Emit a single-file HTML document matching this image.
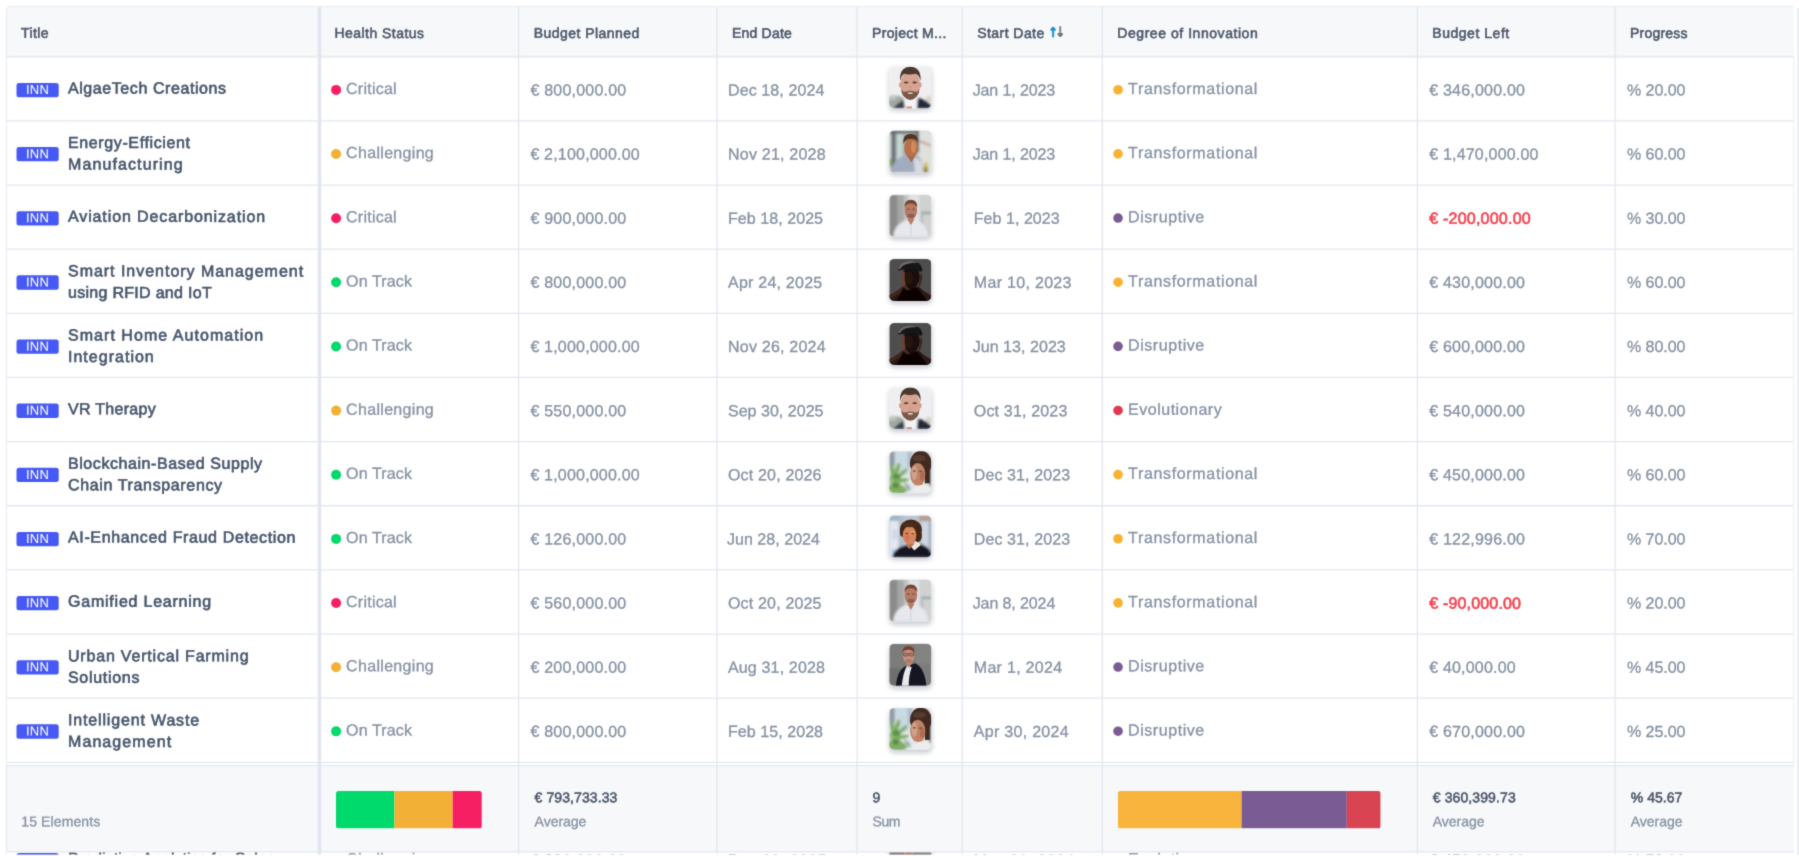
<!DOCTYPE html>
<html lang="en"><head><meta charset="utf-8"><title>Projects</title>
<style>
html,body{margin:0;padding:0;background:#fff;}
body{width:1799px;height:856px;overflow:hidden;position:relative;font-family:"Liberation Sans",sans-serif;}
.x{position:absolute;left:0;top:0;white-space:nowrap;line-height:1;display:block;transform-origin:0 0;}
.b{font-size:16px;color:#8591a2;-webkit-text-stroke:0.3px #8591a2;}
.t{font-size:16px;color:#47566c;-webkit-text-stroke:0.62px #47566c;}
.h{font-size:14px;color:#4a5669;-webkit-text-stroke:0.55px #4a5669;}
.fb{font-size:14px;color:#4a5669;-webkit-text-stroke:0.55px #4a5669;}
.fs{font-size:14px;color:#8591a2;-webkit-text-stroke:0.3px #8591a2;}
.inn{font-size:13px;color:#fff;}
.av{position:absolute;left:0;top:0;width:42px;height:42px;border-radius:5px;overflow:hidden;box-shadow:0 2.5px 5px rgba(50,60,90,.26);}
.av svg{display:block}
.bg{position:absolute;}
#grid{position:absolute;left:0;top:0;}
#foot{position:absolute;left:6.0px;top:765.5px;width:1788.0px;height:86.5px;background:#f6f8fa;border-radius:0 0 0 5px;}
#page{position:absolute;left:0;top:0;width:1799px;height:856px;overflow:hidden;filter:url(#soft);will-change:transform;background:#fff;}
</style></head><body>
<svg width="0" height="0" style="position:absolute"><defs><filter id="soft" x="0" y="0" width="100%" height="100%" color-interpolation-filters="sRGB"><feConvolveMatrix order="3" kernelMatrix="0.025 0.095 0.025 0.095 0.52 0.095 0.025 0.095 0.025" edgeMode="duplicate" preserveAlpha="false"/></filter></defs></svg>
<div id="page">

<div class="bg" style="left:6.0px;top:6.0px;width:1788.0px;height:50.8px;background:#f6f8fa;border-radius:5px 5px 0 0"></div>
<span class="x h" style="transform:translate(21.00px,25.85px) rotate(.05deg);letter-spacing:0.412px;">Title</span>
<span class="x h" style="transform:translate(334.50px,25.85px) rotate(.05deg);letter-spacing:0.457px;">Health Status</span>
<span class="x h" style="transform:translate(533.70px,25.85px) rotate(.05deg);letter-spacing:0.454px;">Budget Planned</span>
<span class="x h" style="transform:translate(732.00px,25.85px) rotate(.05deg);letter-spacing:0.203px;">End Date</span>
<span class="x h" style="transform:translate(872.10px,25.85px) rotate(.05deg);letter-spacing:0.309px;">Project M...</span>
<span class="x h" style="transform:translate(977.20px,25.85px) rotate(.05deg);letter-spacing:0.447px;">Start Date</span>
<span class="x h" style="transform:translate(1117.30px,25.85px) rotate(.05deg);letter-spacing:0.551px;">Degree of Innovation</span>
<span class="x h" style="transform:translate(1432.30px,25.85px) rotate(.05deg);letter-spacing:0.534px;">Budget Left</span>
<span class="x h" style="transform:translate(1630.10px,25.85px) rotate(.05deg);letter-spacing:0.184px;">Progress</span>
<svg style="position:absolute;left:1048px;top:24px" width="18" height="16" viewBox="0 0 18 16">
<path d="M5.1 12.5 L5.1 5" stroke="#2f9edd" stroke-width="2.3" fill="none" stroke-linecap="round"/>
<path d="M3.4 5.7 L5.1 3.9 L6.8 5.7Z" fill="#1a8fd6" stroke="#1a8fd6" stroke-width="2.3" stroke-linejoin="round"/>
<path d="M12.2 3.0 L12.2 9.6" stroke="#868686" stroke-width="2.0" fill="none" stroke-linecap="round"/>
<path d="M10.5 10.2 L12.2 11.8 L13.9 10.2Z" fill="#737373" stroke="#737373" stroke-width="2.3" stroke-linejoin="round"/>
</svg>
<svg style="position:absolute;left:0;top:0" width="1799" height="856" viewBox="0 0 1799 856"><rect x="16.5" y="82.90" width="42.2" height="14.3" rx="2.5" fill="#4759f5"/><circle cx="336.10" cy="89.90" r="5" fill="#f71f63"/><circle cx="1118.05" cy="89.75" r="4.8" fill="#f9b234"/><rect x="16.5" y="147.04" width="42.2" height="14.3" rx="2.5" fill="#4759f5"/><circle cx="336.10" cy="154.04" r="5" fill="#f2b136"/><circle cx="1118.05" cy="153.89" r="4.8" fill="#f9b234"/><rect x="16.5" y="211.19" width="42.2" height="14.3" rx="2.5" fill="#4759f5"/><circle cx="336.10" cy="218.19" r="5" fill="#f71f63"/><circle cx="1118.05" cy="218.04" r="4.8" fill="#7a5b93"/><rect x="16.5" y="275.33" width="42.2" height="14.3" rx="2.5" fill="#4759f5"/><circle cx="336.10" cy="282.33" r="5" fill="#00d96b"/><circle cx="1118.05" cy="282.19" r="4.8" fill="#f9b234"/><rect x="16.5" y="339.48" width="42.2" height="14.3" rx="2.5" fill="#4759f5"/><circle cx="336.10" cy="346.48" r="5" fill="#00d96b"/><circle cx="1118.05" cy="346.33" r="4.8" fill="#7a5b93"/><rect x="16.5" y="403.62" width="42.2" height="14.3" rx="2.5" fill="#4759f5"/><circle cx="336.10" cy="410.62" r="5" fill="#f2b136"/><circle cx="1118.05" cy="410.47" r="4.8" fill="#e0394f"/><rect x="16.5" y="467.77" width="42.2" height="14.3" rx="2.5" fill="#4759f5"/><circle cx="336.10" cy="474.77" r="5" fill="#00d96b"/><circle cx="1118.05" cy="474.62" r="4.8" fill="#f9b234"/><rect x="16.5" y="531.91" width="42.2" height="14.3" rx="2.5" fill="#4759f5"/><circle cx="336.10" cy="538.91" r="5" fill="#00d96b"/><circle cx="1118.05" cy="538.76" r="4.8" fill="#f9b234"/><rect x="16.5" y="596.06" width="42.2" height="14.3" rx="2.5" fill="#4759f5"/><circle cx="336.10" cy="603.06" r="5" fill="#f71f63"/><circle cx="1118.05" cy="602.91" r="4.8" fill="#f9b234"/><rect x="16.5" y="660.20" width="42.2" height="14.3" rx="2.5" fill="#4759f5"/><circle cx="336.10" cy="667.20" r="5" fill="#f2b136"/><circle cx="1118.05" cy="667.05" r="4.8" fill="#7a5b93"/><rect x="16.5" y="724.35" width="42.2" height="14.3" rx="2.5" fill="#4759f5"/><circle cx="336.10" cy="731.35" r="5" fill="#00d96b"/><circle cx="1118.05" cy="731.20" r="4.8" fill="#7a5b93"/><rect x="16.5" y="788.94" width="42.2" height="14.3" rx="2.5" fill="#4759f5"/><circle cx="336.10" cy="795.94" r="5" fill="#00d96b"/><circle cx="1118.05" cy="795.79" r="4.8" fill="#7a5b93"/><rect x="16.5" y="853.09" width="42.2" height="14.3" rx="2.5" fill="#4759f5"/><circle cx="336.10" cy="860.09" r="5" fill="#f2b136"/><circle cx="1118.05" cy="859.94" r="4.8" fill="#e0394f"/></svg>
<span class="x inn" style="transform:translate(26.00px,83.05px) rotate(.05deg);letter-spacing:0.250px;">INN</span>
<span class="x t" style="transform:translate(68.00px,80.46px) rotate(.05deg);letter-spacing:0.577px;">AlgaeTech Creations</span>
<span class="x b" style="transform:translate(346.10px,80.96px) rotate(.05deg);letter-spacing:0.226px;">Critical</span>
<span class="x b" style="transform:translate(530.40px,82.41px) rotate(.05deg);letter-spacing:0.215px;">€ 800,000.00</span>
<span class="x b" style="transform:translate(728.00px,82.41px) rotate(.05deg);letter-spacing:0.101px;">Dec 18, 2024</span>
<div class="av" style="transform:translate(889.30px,66.45px)"><svg width="42" height="42" viewBox="0 0 42 42"><defs><filter id="gA0" x="-20%" y="-20%" width="140%" height="140%"><feGaussianBlur stdDeviation="1.1"/></filter><filter id="fA0" x="-20%" y="-20%" width="140%" height="140%"><feGaussianBlur stdDeviation="0.75"/></filter></defs><rect width="42" height="42" fill="#efeff2"/>
<g filter="url(#gA0)">
<ellipse cx="6" cy="35.5" rx="9.5" ry="6.5" fill="#a2a8a0"/>
<ellipse cx="3" cy="31" rx="4" ry="2.5" fill="#c3c6c0"/>
<ellipse cx="39.5" cy="33" rx="3.5" ry="3.5" fill="#d9d4c4"/>
<path d="M27.5 31 Q37 33 41.5 38.5 L42 42 L26 42Z" fill="#242938"/>
<path d="M4 42 Q8 36.5 15 33 L16.5 42Z" fill="#39404f"/>
<path d="M14.5 32.5 L17 28 L25 28 L28.5 31.5 L27.5 42 L15.5 42Z" fill="#f3f3f6"/>
</g>
<g filter="url(#fA0)">
<rect x="17.2" y="40" width="5.4" height="2.4" fill="#cf8f78"/>
<ellipse cx="21" cy="18" rx="10" ry="13.2" fill="#d5a390"/>
<ellipse cx="11" cy="18.5" rx="1.3" ry="2.6" fill="#d49a88"/><ellipse cx="31" cy="18.5" rx="1.3" ry="2.6" fill="#d49a88"/>
<path d="M11.8 22 Q12.2 32 21 33.6 Q29.8 32 30.2 22 Q28.6 26.4 25 25 Q21 23.8 17 25 Q13.4 26.4 11.8 22Z" fill="#7a594a"/>
<ellipse cx="21" cy="26.6" rx="2.8" ry="0.9" fill="#e2cdc4"/>
<path d="M10.8 14.5 Q9.8 1 21 0.4 Q32.2 1 31.2 14.5 Q30 8.2 26 7.2 Q20 8.8 15 7.2 Q12 8.6 10.8 14.5Z" fill="#4b382e"/>
<ellipse cx="16.8" cy="16" rx="2.3" ry="0.95" fill="#5a3d33"/><ellipse cx="25.4" cy="16" rx="2.3" ry="0.95" fill="#5a3d33"/>
<ellipse cx="21" cy="21" rx="1.5" ry="1" fill="#cf9583"/>
</g></svg></div>
<span class="x b" style="transform:translate(972.70px,82.41px) rotate(.05deg);letter-spacing:-0.120px;">Jan 1, 2023</span>
<span class="x b" style="transform:translate(1128.10px,80.96px) rotate(.05deg);letter-spacing:0.659px;">Transformational</span>
<span class="x b" style="transform:translate(1429.20px,82.41px) rotate(.05deg);letter-spacing:0.215px;">€ 346,000.00</span>
<span class="x b" style="transform:translate(1627.00px,82.41px) rotate(.05deg);letter-spacing:-0.046px;">% 20.00</span>
<span class="x inn" style="transform:translate(26.00px,147.19px) rotate(.05deg);letter-spacing:0.250px;">INN</span>
<span class="x t" style="transform:translate(68.00px,135.00px) rotate(.05deg);letter-spacing:0.621px;">Energy-Efficient</span>
<span class="x t" style="transform:translate(68.00px,156.55px) rotate(.05deg);letter-spacing:1.108px;">Manufacturing</span>
<span class="x b" style="transform:translate(346.10px,145.10px) rotate(.05deg);letter-spacing:0.317px;">Challenging</span>
<span class="x b" style="transform:translate(530.40px,146.55px) rotate(.05deg);letter-spacing:0.195px;">€ 2,100,000.00</span>
<span class="x b" style="transform:translate(728.00px,146.55px) rotate(.05deg);letter-spacing:0.218px;">Nov 21, 2028</span>
<div class="av" style="transform:translate(889.30px,130.59px)"><svg width="42" height="42" viewBox="0 0 42 42"><defs><filter id="gB1" x="-20%" y="-20%" width="140%" height="140%"><feGaussianBlur stdDeviation="1.1"/></filter><filter id="fB1" x="-20%" y="-20%" width="140%" height="140%"><feGaussianBlur stdDeviation="0.75"/></filter></defs><rect width="42" height="42" fill="#dcddd8"/>
<g filter="url(#gB1)">
<rect x="0" y="0" width="30" height="42" fill="#c8d5d1"/>
<rect x="0" y="0" width="30" height="3.2" fill="#666d76"/>
<rect x="2.2" y="0" width="4" height="42" fill="#656c76"/>
<rect x="6.5" y="3" width="1.2" height="28" fill="#99a4a6"/>
<rect x="13" y="3" width="4" height="22" fill="#aab7b8"/>
<rect x="25.5" y="0" width="4.5" height="22" fill="#6a7179"/>
<rect x="30" y="0" width="12" height="42" fill="#dfe0db"/>
<path d="M30 9.5 L42 14 L42 16.2 L30 11.8Z" fill="#c6a294"/>
<rect x="34.5" y="32" width="4" height="6" fill="#d8c060"/>
<rect x="34" y="36" width="4.6" height="6" fill="#86aa50"/><rect x="35.3" y="39" width="3" height="3" fill="#c4504a"/>
<rect x="0" y="28" width="2.6" height="8" fill="#86aa5c"/>
<path d="M1 42 Q3 30 15 24.5 L28 25 Q33.5 28 33.5 42Z" fill="#a3abc1"/>
<path d="M24.5 27 Q33.5 28 33.5 42 L25.5 42Z" fill="#d7d9e2"/>
</g>
<g filter="url(#fB1)">
<ellipse cx="21.7" cy="17.5" rx="6.9" ry="10.4" fill="#b5714c"/>
<ellipse cx="24.2" cy="16.5" rx="2.4" ry="6" fill="#d48b58"/>
<ellipse cx="20" cy="17" rx="1.3" ry="3.6" fill="#c46a50"/>
<path d="M14.2 13.5 Q13 3.2 21 3.2 Q29 3.2 28.6 11.5 Q25 7.6 21 8.4 Q16.5 8.2 14.2 13.5Z" fill="#55341f"/>
<path d="M18.5 26 L22 32 L25.5 26Z" fill="#a5674a"/>
</g></svg></div>
<span class="x b" style="transform:translate(972.70px,146.55px) rotate(.05deg);letter-spacing:-0.120px;">Jan 1, 2023</span>
<span class="x b" style="transform:translate(1128.10px,145.10px) rotate(.05deg);letter-spacing:0.659px;">Transformational</span>
<span class="x b" style="transform:translate(1429.20px,146.55px) rotate(.05deg);letter-spacing:0.195px;">€ 1,470,000.00</span>
<span class="x b" style="transform:translate(1627.00px,146.55px) rotate(.05deg);letter-spacing:-0.046px;">% 60.00</span>
<span class="x inn" style="transform:translate(26.00px,211.34px) rotate(.05deg);letter-spacing:0.250px;">INN</span>
<span class="x t" style="transform:translate(68.00px,208.75px) rotate(.05deg);letter-spacing:0.887px;">Aviation Decarbonization</span>
<span class="x b" style="transform:translate(346.10px,209.25px) rotate(.05deg);letter-spacing:0.226px;">Critical</span>
<span class="x b" style="transform:translate(530.40px,210.70px) rotate(.05deg);letter-spacing:0.215px;">€ 900,000.00</span>
<span class="x b" style="transform:translate(728.00px,210.70px) rotate(.05deg);letter-spacing:0.067px;">Feb 18, 2025</span>
<div class="av" style="transform:translate(889.30px,194.74px)"><svg width="42" height="42" viewBox="0 0 42 42"><defs><filter id="gC2" x="-20%" y="-20%" width="140%" height="140%"><feGaussianBlur stdDeviation="1.1"/></filter><filter id="fC2" x="-20%" y="-20%" width="140%" height="140%"><feGaussianBlur stdDeviation="0.75"/></filter></defs><rect width="42" height="42" fill="#d5d8d6"/>
<g filter="url(#gC2)">
<rect x="0" y="0" width="8.5" height="42" fill="#8b8b89"/>
<rect x="8.5" y="0" width="6.5" height="42" fill="#a5a7a4"/>
<rect x="15" y="0" width="4.5" height="42" fill="#c1c4c1"/>
<rect x="19.5" y="0" width="10.5" height="42" fill="#e1e4e7"/>
<rect x="30" y="0" width="12" height="42" fill="#cfd2cf"/>
<rect x="32" y="17" width="10" height="2.4" fill="#9aa1a7"/>
<rect x="32" y="19" width="1.8" height="11" fill="#b3b8ba"/>
<path d="M3.8 42 Q4.5 30.5 16 25.5 L27.5 25.5 Q38 29.5 39 42Z" fill="#e6e8ee"/>
</g>
<g filter="url(#fC2)">
<ellipse cx="21.6" cy="15.6" rx="6.3" ry="9" fill="#b77a65"/>
<path d="M17.8 24 L21.6 30.5 L25.4 24Z" fill="#b67c66"/>
<path d="M15.2 12.5 Q15 5 21.6 5 Q28.2 5 28 12.5 Q25 8.2 21.6 8.7 Q17.5 8.2 15.2 12.5Z" fill="#754632"/>
<ellipse cx="21.6" cy="21.2" rx="3.6" ry="2.1" fill="#8a6054"/>
<ellipse cx="19" cy="14.5" rx="1.5" ry="0.8" fill="#7c5448"/><ellipse cx="24.2" cy="14.5" rx="1.5" ry="0.8" fill="#7c5448"/>
<rect x="21.2" y="30" width="0.9" height="12" fill="#cfd2da"/>
</g></svg></div>
<span class="x b" style="transform:translate(973.80px,210.70px) rotate(.05deg);letter-spacing:0.045px;">Feb 1, 2023</span>
<span class="x b" style="transform:translate(1128.10px,209.25px) rotate(.05deg);letter-spacing:0.556px;">Disruptive</span>
<span class="x b" style="transform:translate(1429.20px,210.70px) rotate(.05deg);letter-spacing:0.227px;color:#f5424f;-webkit-text-stroke:0.62px #f5424f;">€ -200,000.00</span>
<span class="x b" style="transform:translate(1627.00px,210.70px) rotate(.05deg);letter-spacing:-0.046px;">% 30.00</span>
<span class="x inn" style="transform:translate(26.00px,275.48px) rotate(.05deg);letter-spacing:0.250px;">INN</span>
<span class="x t" style="transform:translate(68.00px,263.29px) rotate(.05deg);letter-spacing:0.974px;">Smart Inventory Management</span>
<span class="x t" style="transform:translate(68.00px,284.84px) rotate(.05deg);letter-spacing:0.293px;">using RFID and IoT</span>
<span class="x b" style="transform:translate(346.10px,273.39px) rotate(.05deg);letter-spacing:0.137px;">On Track</span>
<span class="x b" style="transform:translate(530.40px,274.84px) rotate(.05deg);letter-spacing:0.215px;">€ 800,000.00</span>
<span class="x b" style="transform:translate(728.00px,274.84px) rotate(.05deg);letter-spacing:0.231px;">Apr 24, 2025</span>
<div class="av" style="transform:translate(889.30px,258.88px)"><svg width="42" height="42" viewBox="0 0 42 42"><defs><filter id="gD3" x="-20%" y="-20%" width="140%" height="140%"><feGaussianBlur stdDeviation="1.1"/></filter><filter id="fD3" x="-20%" y="-20%" width="140%" height="140%"><feGaussianBlur stdDeviation="0.75"/></filter></defs><rect width="42" height="42" fill="#4e4e4e"/>
<g filter="url(#fD3)">
<path d="M0 42 L0 36.5 Q8 32.5 13.5 27.5 L29 27.5 Q34 32.5 42 36.5 L42 42Z" fill="#2a1710"/>
<path d="M0 36.8 Q8 32.6 13.5 27.5 L16 30.5 Q8 36.5 0 40.5Z" fill="#40261a"/>
<path d="M33 32.6 Q38 35.2 42 37.2 L42 40 Q37 37.4 31.5 34.8Z" fill="#2e1c15"/>
<path d="M7 42 L14 29 L28.5 29 L38 42Z" fill="#090505"/>
<ellipse cx="21.8" cy="18" rx="8.8" ry="11.5" fill="#1c100c"/>
<ellipse cx="19.5" cy="19" rx="4" ry="6.5" fill="#24140f"/>
<path d="M12.5 13.5 Q11.2 22 14.2 27.5 L16.4 25.5 Q14.6 19.5 15.6 12.5Z" fill="#6a4234"/>
<path d="M16.5 26 Q19 30 22 31 L17 31 Q15 29 14.5 27.5Z" fill="#4a2c22"/>
<path d="M8.8 11.5 Q9.5 2 21 2 Q32 2 33.2 11 Q33 13.5 30 12.5 Q25 9.5 19 10.2 Q13 10.8 8.8 11.5Z" fill="#181513"/>
<path d="M9.2 9.5 Q11 2.6 20.5 2.2 Q26 2.2 29 4 Q23 3.8 18 5 Q12.5 6.4 10.8 10.4Z" fill="#6c6c6e"/>
<path d="M29.2 27 Q31.2 20 31.4 14 L33 16 Q32.2 24 30.4 28Z" fill="#3a2016"/>
</g></svg></div>
<span class="x b" style="transform:translate(973.80px,274.84px) rotate(.05deg);letter-spacing:0.310px;">Mar 10, 2023</span>
<span class="x b" style="transform:translate(1128.10px,273.39px) rotate(.05deg);letter-spacing:0.659px;">Transformational</span>
<span class="x b" style="transform:translate(1429.20px,274.84px) rotate(.05deg);letter-spacing:0.215px;">€ 430,000.00</span>
<span class="x b" style="transform:translate(1627.00px,274.84px) rotate(.05deg);letter-spacing:-0.046px;">% 60.00</span>
<span class="x inn" style="transform:translate(26.00px,339.63px) rotate(.05deg);letter-spacing:0.250px;">INN</span>
<span class="x t" style="transform:translate(68.00px,327.44px) rotate(.05deg);letter-spacing:1.043px;">Smart Home Automation</span>
<span class="x t" style="transform:translate(68.00px,348.99px) rotate(.05deg);letter-spacing:1.017px;">Integration</span>
<span class="x b" style="transform:translate(346.10px,337.54px) rotate(.05deg);letter-spacing:0.137px;">On Track</span>
<span class="x b" style="transform:translate(530.40px,338.99px) rotate(.05deg);letter-spacing:0.195px;">€ 1,000,000.00</span>
<span class="x b" style="transform:translate(728.00px,338.99px) rotate(.05deg);letter-spacing:0.218px;">Nov 26, 2024</span>
<div class="av" style="transform:translate(889.30px,323.03px)"><svg width="42" height="42" viewBox="0 0 42 42"><defs><filter id="gD4" x="-20%" y="-20%" width="140%" height="140%"><feGaussianBlur stdDeviation="1.1"/></filter><filter id="fD4" x="-20%" y="-20%" width="140%" height="140%"><feGaussianBlur stdDeviation="0.75"/></filter></defs><rect width="42" height="42" fill="#4e4e4e"/>
<g filter="url(#fD4)">
<path d="M0 42 L0 36.5 Q8 32.5 13.5 27.5 L29 27.5 Q34 32.5 42 36.5 L42 42Z" fill="#2a1710"/>
<path d="M0 36.8 Q8 32.6 13.5 27.5 L16 30.5 Q8 36.5 0 40.5Z" fill="#40261a"/>
<path d="M33 32.6 Q38 35.2 42 37.2 L42 40 Q37 37.4 31.5 34.8Z" fill="#2e1c15"/>
<path d="M7 42 L14 29 L28.5 29 L38 42Z" fill="#090505"/>
<ellipse cx="21.8" cy="18" rx="8.8" ry="11.5" fill="#1c100c"/>
<ellipse cx="19.5" cy="19" rx="4" ry="6.5" fill="#24140f"/>
<path d="M12.5 13.5 Q11.2 22 14.2 27.5 L16.4 25.5 Q14.6 19.5 15.6 12.5Z" fill="#6a4234"/>
<path d="M16.5 26 Q19 30 22 31 L17 31 Q15 29 14.5 27.5Z" fill="#4a2c22"/>
<path d="M8.8 11.5 Q9.5 2 21 2 Q32 2 33.2 11 Q33 13.5 30 12.5 Q25 9.5 19 10.2 Q13 10.8 8.8 11.5Z" fill="#181513"/>
<path d="M9.2 9.5 Q11 2.6 20.5 2.2 Q26 2.2 29 4 Q23 3.8 18 5 Q12.5 6.4 10.8 10.4Z" fill="#6c6c6e"/>
<path d="M29.2 27 Q31.2 20 31.4 14 L33 16 Q32.2 24 30.4 28Z" fill="#3a2016"/>
</g></svg></div>
<span class="x b" style="transform:translate(972.70px,338.99px) rotate(.05deg);letter-spacing:0.047px;">Jun 13, 2023</span>
<span class="x b" style="transform:translate(1128.10px,337.54px) rotate(.05deg);letter-spacing:0.556px;">Disruptive</span>
<span class="x b" style="transform:translate(1429.20px,338.99px) rotate(.05deg);letter-spacing:0.215px;">€ 600,000.00</span>
<span class="x b" style="transform:translate(1627.00px,338.99px) rotate(.05deg);letter-spacing:-0.046px;">% 80.00</span>
<span class="x inn" style="transform:translate(26.00px,403.77px) rotate(.05deg);letter-spacing:0.250px;">INN</span>
<span class="x t" style="transform:translate(68.00px,401.18px) rotate(.05deg);letter-spacing:0.292px;">VR Therapy</span>
<span class="x b" style="transform:translate(346.10px,401.68px) rotate(.05deg);letter-spacing:0.317px;">Challenging</span>
<span class="x b" style="transform:translate(530.40px,403.13px) rotate(.05deg);letter-spacing:0.215px;">€ 550,000.00</span>
<span class="x b" style="transform:translate(728.00px,403.13px) rotate(.05deg);letter-spacing:0.025px;">Sep 30, 2025</span>
<div class="av" style="transform:translate(889.30px,387.17px)"><svg width="42" height="42" viewBox="0 0 42 42"><defs><filter id="gA5" x="-20%" y="-20%" width="140%" height="140%"><feGaussianBlur stdDeviation="1.1"/></filter><filter id="fA5" x="-20%" y="-20%" width="140%" height="140%"><feGaussianBlur stdDeviation="0.75"/></filter></defs><rect width="42" height="42" fill="#efeff2"/>
<g filter="url(#gA5)">
<ellipse cx="6" cy="35.5" rx="9.5" ry="6.5" fill="#a2a8a0"/>
<ellipse cx="3" cy="31" rx="4" ry="2.5" fill="#c3c6c0"/>
<ellipse cx="39.5" cy="33" rx="3.5" ry="3.5" fill="#d9d4c4"/>
<path d="M27.5 31 Q37 33 41.5 38.5 L42 42 L26 42Z" fill="#242938"/>
<path d="M4 42 Q8 36.5 15 33 L16.5 42Z" fill="#39404f"/>
<path d="M14.5 32.5 L17 28 L25 28 L28.5 31.5 L27.5 42 L15.5 42Z" fill="#f3f3f6"/>
</g>
<g filter="url(#fA5)">
<rect x="17.2" y="40" width="5.4" height="2.4" fill="#cf8f78"/>
<ellipse cx="21" cy="18" rx="10" ry="13.2" fill="#d5a390"/>
<ellipse cx="11" cy="18.5" rx="1.3" ry="2.6" fill="#d49a88"/><ellipse cx="31" cy="18.5" rx="1.3" ry="2.6" fill="#d49a88"/>
<path d="M11.8 22 Q12.2 32 21 33.6 Q29.8 32 30.2 22 Q28.6 26.4 25 25 Q21 23.8 17 25 Q13.4 26.4 11.8 22Z" fill="#7a594a"/>
<ellipse cx="21" cy="26.6" rx="2.8" ry="0.9" fill="#e2cdc4"/>
<path d="M10.8 14.5 Q9.8 1 21 0.4 Q32.2 1 31.2 14.5 Q30 8.2 26 7.2 Q20 8.8 15 7.2 Q12 8.6 10.8 14.5Z" fill="#4b382e"/>
<ellipse cx="16.8" cy="16" rx="2.3" ry="0.95" fill="#5a3d33"/><ellipse cx="25.4" cy="16" rx="2.3" ry="0.95" fill="#5a3d33"/>
<ellipse cx="21" cy="21" rx="1.5" ry="1" fill="#cf9583"/>
</g></svg></div>
<span class="x b" style="transform:translate(973.80px,403.13px) rotate(.05deg);letter-spacing:0.173px;">Oct 31, 2023</span>
<span class="x b" style="transform:translate(1128.10px,401.68px) rotate(.05deg);letter-spacing:0.504px;">Evolutionary</span>
<span class="x b" style="transform:translate(1429.20px,403.13px) rotate(.05deg);letter-spacing:0.215px;">€ 540,000.00</span>
<span class="x b" style="transform:translate(1627.00px,403.13px) rotate(.05deg);letter-spacing:-0.046px;">% 40.00</span>
<span class="x inn" style="transform:translate(26.00px,467.92px) rotate(.05deg);letter-spacing:0.250px;">INN</span>
<span class="x t" style="transform:translate(68.00px,455.73px) rotate(.05deg);letter-spacing:0.572px;">Blockchain-Based Supply</span>
<span class="x t" style="transform:translate(68.00px,477.28px) rotate(.05deg);letter-spacing:0.640px;">Chain Transparency</span>
<span class="x b" style="transform:translate(346.10px,465.83px) rotate(.05deg);letter-spacing:0.137px;">On Track</span>
<span class="x b" style="transform:translate(530.40px,467.28px) rotate(.05deg);letter-spacing:0.195px;">€ 1,000,000.00</span>
<span class="x b" style="transform:translate(728.00px,467.28px) rotate(.05deg);letter-spacing:0.173px;">Oct 20, 2026</span>
<div class="av" style="transform:translate(889.30px,451.32px)"><svg width="42" height="42" viewBox="0 0 42 42"><defs><filter id="gE6" x="-20%" y="-20%" width="140%" height="140%"><feGaussianBlur stdDeviation="1.1"/></filter><filter id="fE6" x="-20%" y="-20%" width="140%" height="140%"><feGaussianBlur stdDeviation="0.75"/></filter></defs><rect width="42" height="42" fill="#d3dfe5"/>
<g filter="url(#gE6)">
<rect x="0" y="0" width="5.5" height="15" fill="#8f9ba7"/>
<rect x="5.5" y="0" width="14" height="24" fill="#c9dae4"/>
<rect x="18.5" y="0" width="4" height="16" fill="#aebbc6"/>
<rect x="12" y="24" width="12" height="18" fill="#e3e9ec"/>
<g fill="#7fae60">
<ellipse cx="8" cy="18" rx="2.2" ry="7" transform="rotate(18 8 18)"/>
<ellipse cx="13" cy="22" rx="2" ry="7" transform="rotate(48 13 22)"/>
<ellipse cx="3" cy="19" rx="2.2" ry="6.5" transform="rotate(-12 3 19)"/>
<ellipse cx="13.5" cy="29" rx="2" ry="6.5" transform="rotate(80 13.5 29)"/>
<ellipse cx="6" cy="28" rx="6" ry="6"/>
<ellipse cx="5" cy="37" rx="6.5" ry="5"/>
<ellipse cx="13" cy="36.5" rx="2" ry="6" transform="rotate(-50 13 36.5)"/>
<ellipse cx="11" cy="40" rx="5" ry="2.4"/>
</g>
<ellipse cx="7" cy="25" rx="3.2" ry="2.8" fill="#5a8e49"/>
<ellipse cx="6.5" cy="34" rx="3" ry="2.6" fill="#568947"/>
<ellipse cx="2" cy="30" rx="1.6" ry="3" fill="#9cc084"/>
<path d="M14 30 L20.5 34.5 L22 40 L17 38Z" fill="#9fb3a8"/>
<path d="M20 42 Q22.5 35 30.5 33.6 L42 32.5 L42 42Z" fill="#ededec"/>
<rect x="40.2" y="13" width="1.8" height="22" fill="#595b5e"/>
</g>
<g filter="url(#fE6)">
<ellipse cx="31.5" cy="12" rx="10.8" ry="12.5" fill="#432b22"/>
<rect x="35.5" y="12" width="5" height="20" fill="#432b22"/>
<ellipse cx="28.4" cy="23" rx="7.6" ry="11.2" fill="#bf8468"/>
<ellipse cx="25" cy="21.5" rx="2.8" ry="7.4" fill="#d0a088"/>
<ellipse cx="33" cy="25" rx="2.4" ry="6" fill="#ab6e55"/>
<ellipse cx="30.6" cy="31.4" rx="3.2" ry="2.2" fill="#cb7b59"/>
<ellipse cx="25" cy="19.8" rx="1.5" ry="0.75" fill="#6a4538"/><ellipse cx="31" cy="20" rx="1.5" ry="0.75" fill="#6a4538"/>
<ellipse cx="30" cy="7" rx="6.5" ry="3.2" fill="#553a2f"/>
</g></svg></div>
<span class="x b" style="transform:translate(973.80px,467.28px) rotate(.05deg);letter-spacing:0.101px;">Dec 31, 2023</span>
<span class="x b" style="transform:translate(1128.10px,465.83px) rotate(.05deg);letter-spacing:0.659px;">Transformational</span>
<span class="x b" style="transform:translate(1429.20px,467.28px) rotate(.05deg);letter-spacing:0.215px;">€ 450,000.00</span>
<span class="x b" style="transform:translate(1627.00px,467.28px) rotate(.05deg);letter-spacing:-0.046px;">% 60.00</span>
<span class="x inn" style="transform:translate(26.00px,532.06px) rotate(.05deg);letter-spacing:0.250px;">INN</span>
<span class="x t" style="transform:translate(68.00px,529.47px) rotate(.05deg);letter-spacing:0.641px;">AI-Enhanced Fraud Detection</span>
<span class="x b" style="transform:translate(346.10px,529.97px) rotate(.05deg);letter-spacing:0.137px;">On Track</span>
<span class="x b" style="transform:translate(530.40px,531.42px) rotate(.05deg);letter-spacing:0.215px;">€ 126,000.00</span>
<span class="x b" style="transform:translate(726.90px,531.42px) rotate(.05deg);letter-spacing:0.047px;">Jun 28, 2024</span>
<div class="av" style="transform:translate(889.30px,515.47px)"><svg width="42" height="42" viewBox="0 0 42 42"><defs><filter id="gF7" x="-20%" y="-20%" width="140%" height="140%"><feGaussianBlur stdDeviation="1.1"/></filter><filter id="fF7" x="-20%" y="-20%" width="140%" height="140%"><feGaussianBlur stdDeviation="0.75"/></filter></defs><rect width="42" height="42" fill="#b9c5d2"/>
<g filter="url(#gF7)">
<rect x="0" y="3" width="9.5" height="39" fill="#e2e8f0"/>
<rect x="0" y="0" width="14" height="5.5" fill="#a6b3c0"/>
<rect x="9.5" y="0" width="4.5" height="42" fill="#b0bccb"/>
<rect x="3" y="14" width="5" height="10" fill="#cfd8e6"/>
<rect x="30" y="0" width="12" height="6" fill="#b59e94"/>
<rect x="32" y="6" width="7.5" height="30" fill="#ced7e1"/>
<rect x="39.5" y="6" width="2.5" height="30" fill="#a5b1bf"/>
<path d="M3 42 Q4 33.5 14 30.5 L30 28 Q40 31 42 38 L42 42Z" fill="#121722"/>
<rect x="3.4" y="34" width="1.4" height="4" fill="#3aa0e8"/>
</g>
<g filter="url(#fF7)">
<path d="M21.5 31 L28 25 L31.5 29.5 L25 35Z" fill="#efe8e0"/>
<ellipse cx="21.6" cy="14.5" rx="11" ry="10.4" fill="#452719"/>
<ellipse cx="28.6" cy="20.5" rx="4" ry="6.2" fill="#452719"/>
<ellipse cx="13" cy="17" rx="2.4" ry="4" fill="#40261a"/>
<ellipse cx="20.2" cy="20" rx="6.8" ry="9.4" fill="#d3875c"/>
<ellipse cx="18" cy="22" rx="2" ry="3.5" fill="#dc6e58"/>
<ellipse cx="23" cy="17.5" rx="2.2" ry="2.4" fill="#e79a5c"/>
<path d="M16 29.5 L20 33.6 L25.4 28Z" fill="#b47352"/>
<ellipse cx="20.4" cy="9.4" rx="7.4" ry="2.4" fill="#4e2d1f"/>
<ellipse cx="17.5" cy="18" rx="1.5" ry="0.8" fill="#6a3e2e"/><ellipse cx="23.3" cy="18.3" rx="1.5" ry="0.8" fill="#6a3e2e"/>
</g></svg></div>
<span class="x b" style="transform:translate(973.80px,531.42px) rotate(.05deg);letter-spacing:0.101px;">Dec 31, 2023</span>
<span class="x b" style="transform:translate(1128.10px,529.97px) rotate(.05deg);letter-spacing:0.659px;">Transformational</span>
<span class="x b" style="transform:translate(1429.20px,531.42px) rotate(.05deg);letter-spacing:0.215px;">€ 122,996.00</span>
<span class="x b" style="transform:translate(1627.00px,531.42px) rotate(.05deg);letter-spacing:-0.046px;">% 70.00</span>
<span class="x inn" style="transform:translate(26.00px,596.21px) rotate(.05deg);letter-spacing:0.250px;">INN</span>
<span class="x t" style="transform:translate(68.00px,593.62px) rotate(.05deg);letter-spacing:0.779px;">Gamified Learning</span>
<span class="x b" style="transform:translate(346.10px,594.12px) rotate(.05deg);letter-spacing:0.226px;">Critical</span>
<span class="x b" style="transform:translate(530.40px,595.57px) rotate(.05deg);letter-spacing:0.215px;">€ 560,000.00</span>
<span class="x b" style="transform:translate(728.00px,595.57px) rotate(.05deg);letter-spacing:0.173px;">Oct 20, 2025</span>
<div class="av" style="transform:translate(889.30px,579.61px)"><svg width="42" height="42" viewBox="0 0 42 42"><defs><filter id="gC8" x="-20%" y="-20%" width="140%" height="140%"><feGaussianBlur stdDeviation="1.1"/></filter><filter id="fC8" x="-20%" y="-20%" width="140%" height="140%"><feGaussianBlur stdDeviation="0.75"/></filter></defs><rect width="42" height="42" fill="#d5d8d6"/>
<g filter="url(#gC8)">
<rect x="0" y="0" width="8.5" height="42" fill="#8b8b89"/>
<rect x="8.5" y="0" width="6.5" height="42" fill="#a5a7a4"/>
<rect x="15" y="0" width="4.5" height="42" fill="#c1c4c1"/>
<rect x="19.5" y="0" width="10.5" height="42" fill="#e1e4e7"/>
<rect x="30" y="0" width="12" height="42" fill="#cfd2cf"/>
<rect x="32" y="17" width="10" height="2.4" fill="#9aa1a7"/>
<rect x="32" y="19" width="1.8" height="11" fill="#b3b8ba"/>
<path d="M3.8 42 Q4.5 30.5 16 25.5 L27.5 25.5 Q38 29.5 39 42Z" fill="#e6e8ee"/>
</g>
<g filter="url(#fC8)">
<ellipse cx="21.6" cy="15.6" rx="6.3" ry="9" fill="#b77a65"/>
<path d="M17.8 24 L21.6 30.5 L25.4 24Z" fill="#b67c66"/>
<path d="M15.2 12.5 Q15 5 21.6 5 Q28.2 5 28 12.5 Q25 8.2 21.6 8.7 Q17.5 8.2 15.2 12.5Z" fill="#754632"/>
<ellipse cx="21.6" cy="21.2" rx="3.6" ry="2.1" fill="#8a6054"/>
<ellipse cx="19" cy="14.5" rx="1.5" ry="0.8" fill="#7c5448"/><ellipse cx="24.2" cy="14.5" rx="1.5" ry="0.8" fill="#7c5448"/>
<rect x="21.2" y="30" width="0.9" height="12" fill="#cfd2da"/>
</g></svg></div>
<span class="x b" style="transform:translate(972.70px,595.57px) rotate(.05deg);letter-spacing:-0.102px;">Jan 8, 2024</span>
<span class="x b" style="transform:translate(1128.10px,594.12px) rotate(.05deg);letter-spacing:0.659px;">Transformational</span>
<span class="x b" style="transform:translate(1429.20px,595.57px) rotate(.05deg);letter-spacing:0.178px;color:#f5424f;-webkit-text-stroke:0.62px #f5424f;">€ -90,000.00</span>
<span class="x b" style="transform:translate(1627.00px,595.57px) rotate(.05deg);letter-spacing:-0.046px;">% 20.00</span>
<span class="x inn" style="transform:translate(26.00px,660.35px) rotate(.05deg);letter-spacing:0.250px;">INN</span>
<span class="x t" style="transform:translate(68.00px,648.16px) rotate(.05deg);letter-spacing:0.808px;">Urban Vertical Farming</span>
<span class="x t" style="transform:translate(68.00px,669.71px) rotate(.05deg);letter-spacing:0.708px;">Solutions</span>
<span class="x b" style="transform:translate(346.10px,658.26px) rotate(.05deg);letter-spacing:0.317px;">Challenging</span>
<span class="x b" style="transform:translate(530.40px,659.71px) rotate(.05deg);letter-spacing:0.215px;">€ 200,000.00</span>
<span class="x b" style="transform:translate(728.00px,659.71px) rotate(.05deg);letter-spacing:0.158px;">Aug 31, 2028</span>
<div class="av" style="transform:translate(889.30px,643.75px)"><svg width="42" height="42" viewBox="0 0 42 42"><defs><filter id="gG9" x="-20%" y="-20%" width="140%" height="140%"><feGaussianBlur stdDeviation="1.1"/></filter><filter id="fG9" x="-20%" y="-20%" width="140%" height="140%"><feGaussianBlur stdDeviation="0.75"/></filter></defs><rect width="42" height="42" fill="#7c7c7a"/>
<g filter="url(#gG9)">
<rect x="0" y="24" width="10" height="18" fill="#6e6e6c"/>
<rect x="26" y="0" width="16" height="20" fill="#838381"/>
</g>
<g filter="url(#fG9)">
<path d="M6.5 42 Q8 27.5 15 23 L26 19.5 Q35.5 24.5 37 42Z" fill="#131723"/>
<path d="M12.4 42 Q14 28 18 21.6 L22.4 23.6 Q19.4 32 19.4 42Z" fill="#e8eaee"/>
<ellipse cx="19.4" cy="11.6" rx="5.9" ry="8" fill="#c8917f"/>
<path d="M17 18.5 L19.2 24.2 L23.2 19Z" fill="#c08870"/>
<path d="M13.2 9.2 Q13 1.8 19.6 2.3 Q25.8 2.9 25.2 9.2 Q22 5.5 19 6 Q15.2 6 13.2 9.2Z" fill="#74432f"/>
<rect x="14.3" y="9.4" width="4.4" height="2.8" rx="0.8" fill="#b98474" stroke="#4a3a38" stroke-width="0.7"/><rect x="20" y="9.4" width="4.4" height="2.8" rx="0.8" fill="#b98474" stroke="#4a3a38" stroke-width="0.7"/>
<ellipse cx="19.4" cy="17" rx="3" ry="1.8" fill="#a8786a"/>
</g></svg></div>
<span class="x b" style="transform:translate(973.80px,659.71px) rotate(.05deg);letter-spacing:0.292px;">Mar 1, 2024</span>
<span class="x b" style="transform:translate(1128.10px,658.26px) rotate(.05deg);letter-spacing:0.556px;">Disruptive</span>
<span class="x b" style="transform:translate(1429.20px,659.71px) rotate(.05deg);letter-spacing:0.197px;">€ 40,000.00</span>
<span class="x b" style="transform:translate(1627.00px,659.71px) rotate(.05deg);letter-spacing:-0.046px;">% 45.00</span>
<span class="x inn" style="transform:translate(26.00px,724.50px) rotate(.05deg);letter-spacing:0.250px;">INN</span>
<span class="x t" style="transform:translate(68.00px,712.31px) rotate(.05deg);letter-spacing:0.842px;">Intelligent Waste</span>
<span class="x t" style="transform:translate(68.00px,733.86px) rotate(.05deg);letter-spacing:1.081px;">Management</span>
<span class="x b" style="transform:translate(346.10px,722.41px) rotate(.05deg);letter-spacing:0.137px;">On Track</span>
<span class="x b" style="transform:translate(530.40px,723.86px) rotate(.05deg);letter-spacing:0.215px;">€ 800,000.00</span>
<span class="x b" style="transform:translate(728.00px,723.86px) rotate(.05deg);letter-spacing:0.067px;">Feb 15, 2028</span>
<div class="av" style="transform:translate(889.30px,707.90px)"><svg width="42" height="42" viewBox="0 0 42 42"><defs><filter id="gE10" x="-20%" y="-20%" width="140%" height="140%"><feGaussianBlur stdDeviation="1.1"/></filter><filter id="fE10" x="-20%" y="-20%" width="140%" height="140%"><feGaussianBlur stdDeviation="0.75"/></filter></defs><rect width="42" height="42" fill="#d3dfe5"/>
<g filter="url(#gE10)">
<rect x="0" y="0" width="5.5" height="15" fill="#8f9ba7"/>
<rect x="5.5" y="0" width="14" height="24" fill="#c9dae4"/>
<rect x="18.5" y="0" width="4" height="16" fill="#aebbc6"/>
<rect x="12" y="24" width="12" height="18" fill="#e3e9ec"/>
<g fill="#7fae60">
<ellipse cx="8" cy="18" rx="2.2" ry="7" transform="rotate(18 8 18)"/>
<ellipse cx="13" cy="22" rx="2" ry="7" transform="rotate(48 13 22)"/>
<ellipse cx="3" cy="19" rx="2.2" ry="6.5" transform="rotate(-12 3 19)"/>
<ellipse cx="13.5" cy="29" rx="2" ry="6.5" transform="rotate(80 13.5 29)"/>
<ellipse cx="6" cy="28" rx="6" ry="6"/>
<ellipse cx="5" cy="37" rx="6.5" ry="5"/>
<ellipse cx="13" cy="36.5" rx="2" ry="6" transform="rotate(-50 13 36.5)"/>
<ellipse cx="11" cy="40" rx="5" ry="2.4"/>
</g>
<ellipse cx="7" cy="25" rx="3.2" ry="2.8" fill="#5a8e49"/>
<ellipse cx="6.5" cy="34" rx="3" ry="2.6" fill="#568947"/>
<ellipse cx="2" cy="30" rx="1.6" ry="3" fill="#9cc084"/>
<path d="M14 30 L20.5 34.5 L22 40 L17 38Z" fill="#9fb3a8"/>
<path d="M20 42 Q22.5 35 30.5 33.6 L42 32.5 L42 42Z" fill="#ededec"/>
<rect x="40.2" y="13" width="1.8" height="22" fill="#595b5e"/>
</g>
<g filter="url(#fE10)">
<ellipse cx="31.5" cy="12" rx="10.8" ry="12.5" fill="#432b22"/>
<rect x="35.5" y="12" width="5" height="20" fill="#432b22"/>
<ellipse cx="28.4" cy="23" rx="7.6" ry="11.2" fill="#bf8468"/>
<ellipse cx="25" cy="21.5" rx="2.8" ry="7.4" fill="#d0a088"/>
<ellipse cx="33" cy="25" rx="2.4" ry="6" fill="#ab6e55"/>
<ellipse cx="30.6" cy="31.4" rx="3.2" ry="2.2" fill="#cb7b59"/>
<ellipse cx="25" cy="19.8" rx="1.5" ry="0.75" fill="#6a4538"/><ellipse cx="31" cy="20" rx="1.5" ry="0.75" fill="#6a4538"/>
<ellipse cx="30" cy="7" rx="6.5" ry="3.2" fill="#553a2f"/>
</g></svg></div>
<span class="x b" style="transform:translate(973.80px,723.86px) rotate(.05deg);letter-spacing:0.290px;">Apr 30, 2024</span>
<span class="x b" style="transform:translate(1128.10px,722.41px) rotate(.05deg);letter-spacing:0.556px;">Disruptive</span>
<span class="x b" style="transform:translate(1429.20px,723.86px) rotate(.05deg);letter-spacing:0.215px;">€ 670,000.00</span>
<span class="x b" style="transform:translate(1627.00px,723.86px) rotate(.05deg);letter-spacing:-0.046px;">% 25.00</span>
<span class="x inn" style="transform:translate(26.00px,789.09px) rotate(.05deg);letter-spacing:0.250px;">INN</span>
<span class="x t" style="transform:translate(68.00px,786.50px) rotate(.05deg);letter-spacing:0.050px;">Digital Twin Platform</span>
<span class="x b" style="transform:translate(346.10px,787.00px) rotate(.05deg);letter-spacing:0.137px;">On Track</span>
<span class="x b" style="transform:translate(530.40px,788.45px) rotate(.05deg);letter-spacing:0.215px;">€ 300,000.00</span>
<span class="x b" style="transform:translate(728.00px,788.45px) rotate(.05deg);letter-spacing:0.300px;">May 12, 2026</span>
<div class="av" style="transform:translate(889.30px,772.50px)"><svg width="42" height="42" viewBox="0 0 42 42"><defs><filter id="gB11" x="-20%" y="-20%" width="140%" height="140%"><feGaussianBlur stdDeviation="1.1"/></filter><filter id="fB11" x="-20%" y="-20%" width="140%" height="140%"><feGaussianBlur stdDeviation="0.75"/></filter></defs><rect width="42" height="42" fill="#dcddd8"/>
<g filter="url(#gB11)">
<rect x="0" y="0" width="30" height="42" fill="#c8d5d1"/>
<rect x="0" y="0" width="30" height="3.2" fill="#666d76"/>
<rect x="2.2" y="0" width="4" height="42" fill="#656c76"/>
<rect x="6.5" y="3" width="1.2" height="28" fill="#99a4a6"/>
<rect x="13" y="3" width="4" height="22" fill="#aab7b8"/>
<rect x="25.5" y="0" width="4.5" height="22" fill="#6a7179"/>
<rect x="30" y="0" width="12" height="42" fill="#dfe0db"/>
<path d="M30 9.5 L42 14 L42 16.2 L30 11.8Z" fill="#c6a294"/>
<rect x="34.5" y="32" width="4" height="6" fill="#d8c060"/>
<rect x="34" y="36" width="4.6" height="6" fill="#86aa50"/><rect x="35.3" y="39" width="3" height="3" fill="#c4504a"/>
<rect x="0" y="28" width="2.6" height="8" fill="#86aa5c"/>
<path d="M1 42 Q3 30 15 24.5 L28 25 Q33.5 28 33.5 42Z" fill="#a3abc1"/>
<path d="M24.5 27 Q33.5 28 33.5 42 L25.5 42Z" fill="#d7d9e2"/>
</g>
<g filter="url(#fB11)">
<ellipse cx="21.7" cy="17.5" rx="6.9" ry="10.4" fill="#b5714c"/>
<ellipse cx="24.2" cy="16.5" rx="2.4" ry="6" fill="#d48b58"/>
<ellipse cx="20" cy="17" rx="1.3" ry="3.6" fill="#c46a50"/>
<path d="M14.2 13.5 Q13 3.2 21 3.2 Q29 3.2 28.6 11.5 Q25 7.6 21 8.4 Q16.5 8.2 14.2 13.5Z" fill="#55341f"/>
<path d="M18.5 26 L22 32 L25.5 26Z" fill="#a5674a"/>
</g></svg></div>
<span class="x b" style="transform:translate(973.80px,788.45px) rotate(.05deg);letter-spacing:0.300px;">May 14, 2024</span>
<span class="x b" style="transform:translate(1128.10px,787.00px) rotate(.05deg);letter-spacing:0.556px;">Disruptive</span>
<span class="x b" style="transform:translate(1429.20px,788.45px) rotate(.05deg);letter-spacing:0.215px;">€ 150,000.00</span>
<span class="x b" style="transform:translate(1627.00px,788.45px) rotate(.05deg);letter-spacing:-0.046px;">% 50.00</span>
<span class="x inn" style="transform:translate(26.00px,853.24px) rotate(.05deg);letter-spacing:0.250px;">INN</span>
<span class="x t" style="transform:translate(68.00px,850.65px) rotate(.05deg);letter-spacing:0.050px;">Predictive Analytics for Sales</span>
<span class="x b" style="transform:translate(346.10px,851.15px) rotate(.05deg);letter-spacing:0.317px;">Challenging</span>
<span class="x b" style="transform:translate(530.40px,852.60px) rotate(.05deg);letter-spacing:0.215px;">€ 900,000.00</span>
<span class="x b" style="transform:translate(728.00px,852.60px) rotate(.05deg);letter-spacing:0.300px;">Dec 20, 2025</span>
<div class="av" style="transform:translate(889.30px,836.64px)"><svg width="42" height="42" viewBox="0 0 42 42"><defs><filter id="gG12" x="-20%" y="-20%" width="140%" height="140%"><feGaussianBlur stdDeviation="1.1"/></filter><filter id="fG12" x="-20%" y="-20%" width="140%" height="140%"><feGaussianBlur stdDeviation="0.75"/></filter></defs><rect width="42" height="42" fill="#7c7c7a"/>
<g filter="url(#gG12)">
<rect x="0" y="24" width="10" height="18" fill="#6e6e6c"/>
<rect x="26" y="0" width="16" height="20" fill="#838381"/>
</g>
<g filter="url(#fG12)">
<path d="M6.5 42 Q8 27.5 15 23 L26 19.5 Q35.5 24.5 37 42Z" fill="#131723"/>
<path d="M12.4 42 Q14 28 18 21.6 L22.4 23.6 Q19.4 32 19.4 42Z" fill="#e8eaee"/>
<ellipse cx="19.4" cy="11.6" rx="5.9" ry="8" fill="#c8917f"/>
<path d="M17 18.5 L19.2 24.2 L23.2 19Z" fill="#c08870"/>
<path d="M13.2 9.2 Q13 1.8 19.6 2.3 Q25.8 2.9 25.2 9.2 Q22 5.5 19 6 Q15.2 6 13.2 9.2Z" fill="#74432f"/>
<rect x="14.3" y="9.4" width="4.4" height="2.8" rx="0.8" fill="#b98474" stroke="#4a3a38" stroke-width="0.7"/><rect x="20" y="9.4" width="4.4" height="2.8" rx="0.8" fill="#b98474" stroke="#4a3a38" stroke-width="0.7"/>
<ellipse cx="19.4" cy="17" rx="3" ry="1.8" fill="#a8786a"/>
</g></svg></div>
<span class="x b" style="transform:translate(973.80px,852.60px) rotate(.05deg);letter-spacing:0.300px;">May 31, 2024</span>
<span class="x b" style="transform:translate(1128.10px,851.15px) rotate(.05deg);letter-spacing:0.504px;">Evolutionary</span>
<span class="x b" style="transform:translate(1429.20px,852.60px) rotate(.05deg);letter-spacing:0.215px;">€ 450,000.00</span>
<span class="x b" style="transform:translate(1627.00px,852.60px) rotate(.05deg);letter-spacing:-0.046px;">% 50.00</span>
<div id="foot"></div>
<span class="x fs" style="transform:translate(21.30px,814.25px) rotate(.05deg);letter-spacing:0.107px;">15 Elements</span>
<svg style="position:absolute;left:0;top:0" width="1799" height="856" viewBox="0 0 1799 856"><defs><clipPath id="cb1"><rect x="336" y="791" width="145.8" height="37.4" rx="2.5"/></clipPath><clipPath id="cb2"><rect x="1117.8" y="791" width="262.8" height="37.4" rx="2.5"/></clipPath></defs><g clip-path="url(#cb1)"><rect x="336" y="791" width="58.4" height="37.4" fill="#00d96b"/><rect x="394.4" y="791" width="58.3" height="37.4" fill="#f2b136"/><rect x="452.7" y="791" width="29.2" height="37.4" fill="#f71f63"/></g><g clip-path="url(#cb2)"><rect x="1117.8" y="791" width="123.8" height="37.4" fill="#f9b43e"/><rect x="1241.6" y="791" width="105.2" height="37.4" fill="#7a5b93"/><rect x="1346.8" y="791" width="33.9" height="37.4" fill="#d84452"/></g></svg>
<span class="x fb" style="transform:translate(534.60px,790.15px) rotate(.05deg);letter-spacing:0.096px;">€ 793,733.33</span>
<span class="x fs" style="transform:translate(534.60px,814.25px) rotate(.05deg);letter-spacing:-0.015px;">Average</span>
<span class="x fb" style="transform:translate(872.60px,790.15px) rotate(.05deg);letter-spacing:0.100px;">9</span>
<span class="x fs" style="transform:translate(872.60px,814.25px) rotate(.05deg);letter-spacing:-0.432px;">Sum</span>
<span class="x fb" style="transform:translate(1432.80px,790.15px) rotate(.05deg);letter-spacing:0.104px;">€ 360,399.73</span>
<span class="x fs" style="transform:translate(1432.80px,814.25px) rotate(.05deg);letter-spacing:-0.015px;">Average</span>
<span class="x fb" style="transform:translate(1630.80px,790.15px) rotate(.05deg);letter-spacing:0.018px;">% 45.67</span>
<span class="x fs" style="transform:translate(1630.80px,814.25px) rotate(.05deg);letter-spacing:-0.015px;">Average</span>
<svg id="grid" width="1799" height="856" viewBox="0 0 1799 856">
<line x1="6.0" x2="1794.0" y1="120.89" y2="120.89" stroke="#e2e7ef" stroke-width="1.3"/>
<line x1="6.0" x2="1794.0" y1="185.04" y2="185.04" stroke="#e2e7ef" stroke-width="1.3"/>
<line x1="6.0" x2="1794.0" y1="249.19" y2="249.19" stroke="#e2e7ef" stroke-width="1.3"/>
<line x1="6.0" x2="1794.0" y1="313.33" y2="313.33" stroke="#e2e7ef" stroke-width="1.3"/>
<line x1="6.0" x2="1794.0" y1="377.47" y2="377.47" stroke="#e2e7ef" stroke-width="1.3"/>
<line x1="6.0" x2="1794.0" y1="441.62" y2="441.62" stroke="#e2e7ef" stroke-width="1.3"/>
<line x1="6.0" x2="1794.0" y1="505.76" y2="505.76" stroke="#e2e7ef" stroke-width="1.3"/>
<line x1="6.0" x2="1794.0" y1="569.91" y2="569.91" stroke="#e2e7ef" stroke-width="1.3"/>
<line x1="6.0" x2="1794.0" y1="634.05" y2="634.05" stroke="#e2e7ef" stroke-width="1.3"/>
<line x1="6.0" x2="1794.0" y1="698.20" y2="698.20" stroke="#e2e7ef" stroke-width="1.3"/>
<line x1="6.0" x2="1794.0" y1="762.34" y2="762.34" stroke="#e2e7ef" stroke-width="1.3"/>
<line x1="6.0" x2="1794.0" y1="890.63" y2="890.63" stroke="#e2e7ef" stroke-width="1.3"/>
<line x1="6.0" x2="1794.0" y1="56.7" y2="56.7" stroke="#e9edf3" stroke-width="2"/>
<line x1="6.0" x2="1794.0" y1="765.8" y2="765.8" stroke="#e6eaf1" stroke-width="1.4"/>
<path d="M6.6 766 L6.6 847.4 Q6.6 851.9 11.0 851.9 L1794.0 851.9" fill="none" stroke="#e4e8ef" stroke-width="1.3"/>
<line x1="319.5" x2="319.5" y1="6.0" y2="856" stroke="#e1e6f0" stroke-width="3.6"/>
<line x1="518.7" x2="518.7" y1="6.0" y2="856" stroke="#e2e7ef" stroke-width="1.3"/>
<line x1="717.0" x2="717.0" y1="6.0" y2="856" stroke="#e2e7ef" stroke-width="1.3"/>
<line x1="857.1" x2="857.1" y1="6.0" y2="856" stroke="#e2e7ef" stroke-width="1.3"/>
<line x1="962.2" x2="962.2" y1="6.0" y2="856" stroke="#e2e7ef" stroke-width="1.3"/>
<line x1="1102.3" x2="1102.3" y1="6.0" y2="856" stroke="#e2e7ef" stroke-width="1.3"/>
<line x1="1417.3" x2="1417.3" y1="6.0" y2="856" stroke="#e2e7ef" stroke-width="1.3"/>
<line x1="1615.1" x2="1615.1" y1="6.0" y2="856" stroke="#e2e7ef" stroke-width="1.3"/>
<path d="M6.5 856 L6.5 11.0 Q6.5 6.5 11.0 6.5 L1793.5 6.5" fill="none" stroke="#e9edf3" stroke-width="1.2"/>
<line x1="1793.7" x2="1793.7" y1="56.8" y2="765" stroke="#eef1f6" stroke-width="1.2"/>
<line x1="1798" x2="1798" y1="8" y2="856" stroke="#e6eaf0" stroke-width="1.6"/>
<rect x="0" y="854.6" width="1799" height="2" fill="#fff"/>
</svg>
</div></body></html>
